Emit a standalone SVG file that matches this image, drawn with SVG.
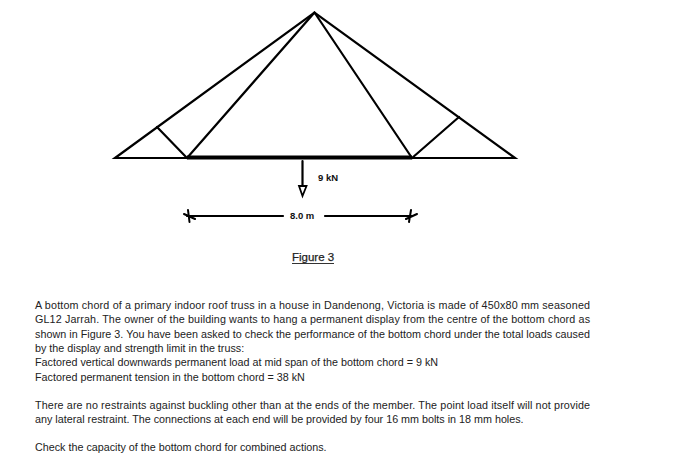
<svg xmlns="http://www.w3.org/2000/svg" width="700" height="464" viewBox="0 0 700 464">
<style>
.l{stroke:#000;stroke-width:2.200;fill:none;stroke-linecap:round}
.t{font-family:"Liberation Sans",Arial,sans-serif;font-size:10.750px;fill:#222}
.b{font-family:"Liberation Sans",Arial,sans-serif;font-size:9.500px;font-weight:bold;fill:#111}
</style>
<rect width="700" height="464" fill="#fff"/>
<g id="connectors">
<path class="l" d="M115 158L314.500 12.500L515 158Z"/>
<path class="l" d="M314.500 12.500L187 158M314.500 12.500L412 158M157 127L187 158M412 158L459 117"/>
<path class="l" style="stroke-width:4;stroke-linecap:butt" d="M187 157.500H412"/>
<path class="l" d="M302.500 161V186"/>
<path class="l" style="stroke-width:1.800" d="M299 186H306.500L302.500 196Z"/>
<path class="l" d="M187 216H283M325 216H412"/>
<path class="l" style="stroke-width:2" d="M188 210L189.500 222M184 214L195 219M411 210L409 222M406 219L417 214"/>
</g>
<g id="load-label"><text class="b" x="318" y="181">9 kN</text></g>
<g id="span-label"><text class="b" x="290" y="218.500">8.0 m</text></g>
<g id="figure-title">
<text class="t" x="292" y="261" style="font-size:11.500px;stroke:#222;stroke-width:.25">Figure 3</text>
<path d="M292 263.500H334" stroke="#333" stroke-width="1.200"/>
</g>
<g id="description">
<text class="t" x="35" y="309" textLength="555" lengthAdjust="spacing">A bottom chord of a primary indoor roof truss in a house in Dandenong, Victoria is made of 450x80 mm seasoned</text>
<text class="t" x="35" y="323" textLength="555" lengthAdjust="spacing">GL12 Jarrah. The owner of the building wants to hang a permanent display from the centre of the bottom chord as</text>
<text class="t" x="35" y="338" textLength="555" lengthAdjust="spacing">shown in Figure 3. You have been asked to check the performance of the bottom chord under the total loads caused</text>
<text class="t" x="35" y="352">by the display and strength limit in the truss:</text>
<text class="t" x="35" y="366">Factored vertical downwards permanent load at mid span of the bottom chord = 9 kN</text>
<text class="t" x="35" y="381">Factored permanent tension in the bottom chord = 38 kN</text>
<text class="t" x="35" y="409" textLength="555" lengthAdjust="spacing">There are no restraints against buckling other than at the ends of the member. The point load itself will not provide</text>
<text class="t" x="35" y="423">any lateral restraint. The connections at each end will be provided by four 16 mm bolts in 18 mm holes.</text>
<text class="t" x="35" y="451">Check the capacity of the bottom chord for combined actions.</text>
</g>
</svg>
